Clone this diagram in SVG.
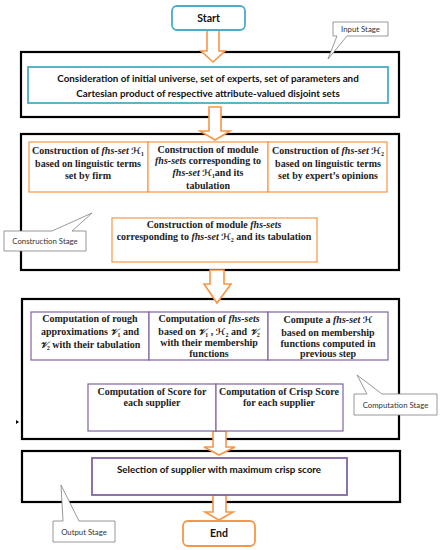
<svg xmlns="http://www.w3.org/2000/svg" width="441" height="550" viewBox="0 0 441 550">
<defs>
<style>
.stage{fill:none;stroke:#000;stroke-width:2.2}
.blue{fill:#fff;stroke:#4bacc6;stroke-width:1.8}
.org{fill:#fff;stroke:#f79646;stroke-width:1.2}
.pur{fill:#fff;stroke:#8064a2;stroke-width:1.2}
.pur2{fill:#fff;stroke:#8064a2;stroke-width:1.8}
.term1{fill:#fff;stroke:#4bacc6;stroke-width:1.8}
.term2{fill:#fff;stroke:#f79646;stroke-width:1.8}
.arrow{fill:#fff;stroke:#f79646;stroke-width:1.6;stroke-linejoin:miter}
.call{fill:#fff;stroke:#7f7f7f;stroke-width:0.8}
.sans{font-family:"Lato","Open Sans","Liberation Sans",sans-serif;font-weight:bold;fill:#111;text-anchor:middle}
.ser{font-family:"Liberation Serif","DejaVu Serif",serif;font-weight:bold;font-size:10px;fill:#222;text-anchor:middle}
.it{font-style:italic}
.math{font-family:"DejaVu Serif","DejaVu Sans","Noto Sans",serif;font-style:italic;font-size:9px}
.ctext{font-family:"Lato","Open Sans","Liberation Sans",sans-serif;font-size:7.8px;fill:#333;text-anchor:middle}
</style>
</defs>

<g id="stage-boxes">
<rect class="stage" x="21" y="52" width="378" height="65"/>
<rect class="stage" x="21" y="134" width="378" height="136"/>
<rect class="stage" x="22" y="299" width="377" height="140"/>
<rect class="stage" x="22" y="451" width="378" height="51"/>
</g>

<g id="connectors">
<path class="arrow" d="M207,30 H219 V51 H225 L213,62 L201,51 H207 Z"/>
<path class="arrow" d="M209,107 H221 V131 H230 L215,140 L200,131 H209 Z"/>
<path class="arrow" d="M210,270 H224 V284 H231 L217,303 L204,284 H210 Z"/>
<path class="arrow" d="M213,431 H226 V447 H235 L219,455 L204,447 H213 Z"/>
<path class="arrow" d="M213,495 H226 V512 H233 L219,520 L205,512 H213 Z"/>
</g>

<g id="start">
<rect class="term1" x="172" y="6" width="73" height="24" rx="5"/>
<text class="sans" x="208.5" y="21.5" font-size="10.5">Start</text>
</g>

<g id="input-box">
<rect class="blue" x="28" y="67" width="360" height="36"/>
<text class="sans" x="208" y="82" font-size="9.8">Consideration of initial universe, set of experts, set of parameters and</text>
<text class="sans" x="208" y="97" font-size="9.8">Cartesian product of respective attribute-valued disjoint sets</text>
</g>

<g id="input-callout">
<path class="call" d="M333,22 H388 V36 H347 L328,59 L337,36 H333 Z"/>
<text class="ctext" x="360.5" y="31.5">Input Stage</text>
</g>

<g id="c1">
<rect class="org" x="29" y="142" width="119" height="50"/>
<text class="ser" x="88" y="154">Construction of <tspan class="it">fhs-set</tspan> <tspan class="math">ℋ</tspan>₁</text>
<text class="ser" x="88" y="167">based on linguistic terms</text>
<text class="ser" x="88" y="179">set by firm</text>
</g>
<g id="c2">
<rect class="org" x="148" y="142" width="120" height="50"/>
<text class="ser" x="208" y="152.5">Construction of module</text>
<text class="ser" x="208" y="164"><tspan class="it">fhs-sets</tspan> corresponding to</text>
<text class="ser" x="208" y="175.5"><tspan class="it">fhs-set</tspan> <tspan class="math">ℋ</tspan>₁and its</text>
<text class="ser" x="208" y="188.5">tabulation</text>
</g>
<g id="c3">
<rect class="org" x="268" y="142" width="119" height="50"/>
<text class="ser" x="328" y="154">Construction of <tspan class="it">fhs-set</tspan> <tspan class="math">ℋ</tspan>₂</text>
<text class="ser" x="328" y="167">based on linguistic terms</text>
<text class="ser" x="328" y="179">set by expert’s opinions</text>
</g>
<g id="c4">
<rect class="org" x="112" y="218" width="205" height="44"/>
<text class="ser" x="214" y="227.5">Construction of module  <tspan class="it">fhs-sets</tspan></text>
<text class="ser" x="214" y="239.5">corresponding to  <tspan class="it">fhs-set</tspan> <tspan class="math">ℋ</tspan>₂ and its tabulation</text>
</g>

<g id="construction-callout">
<path class="call" d="M4,231 H52 L92,213 L72,231 H86 V251 H4 Z"/>
<text class="ctext" x="45" y="244">Construction Stage</text>
</g>

<g id="p1">
<rect class="pur" x="31" y="312" width="118" height="48"/>
<text class="ser" x="90" y="321.5">Computation of rough</text>
<text class="ser" x="90" y="334.5">approximations  <tspan class="math">𝒱</tspan>₁ and</text>
<text class="ser" x="90" y="348"><tspan class="math">𝒱</tspan>₂ with their tabulation</text>
</g>
<g id="p2">
<rect class="pur" x="149" y="312" width="119" height="48"/>
<text class="ser" x="209" y="321.5">Computation of  <tspan class="it">fhs-sets</tspan></text>
<text class="ser" x="209" y="334.5">based on  <tspan class="math">𝒱</tspan>₁ ,  <tspan class="math">ℋ</tspan>₂ and  <tspan class="math">𝒱</tspan>₂</text>
<text class="ser" x="209" y="346">with their membership</text>
<text class="ser" x="209" y="357">functions</text>
</g>
<g id="p3">
<rect class="pur" x="268" y="312" width="120" height="48"/>
<text class="ser" x="328" y="322.5">Compute  a  <tspan class="it">fhs-set</tspan> <tspan class="math">ℋ</tspan></text>
<text class="ser" x="328" y="336">based on membership</text>
<text class="ser" x="328" y="346.5">functions computed in</text>
<text class="ser" x="328" y="357">previous step</text>
</g>
<g id="p4">
<rect class="pur" x="88" y="384" width="128" height="47"/>
<text class="ser" x="152" y="394.5">Computation of Score for</text>
<text class="ser" x="152" y="406">each supplier</text>
</g>
<g id="p5">
<rect class="pur" x="216" y="384" width="127" height="47"/>
<text class="ser" x="279" y="394.5">Computation of Crisp Score</text>
<text class="ser" x="279" y="406">for each supplier</text>
</g>

<g id="computation-callout">
<path class="call" d="M354,394 H367 L357,375 L382,394 H437 V415 H354 Z"/>
<text class="ctext" x="395.5" y="407.5">Computation Stage</text>
</g>

<g id="mark">
<path d="M16,420 L19,422 L16,424 Z" fill="#000"/>
</g>

<g id="selection">
<rect class="pur2" x="92" y="458" width="255" height="37"/>
<text class="sans" x="219" y="473" font-size="9.8">Selection of supplier with maximum crisp score</text>
</g>

<g id="output-callout">
<path class="call" d="M53,521 H63 L61,485 L79,521 H115 V542 H53 Z"/>
<text class="ctext" x="84" y="534.5">Output Stage</text>
</g>

<g id="end">
<rect class="term2" x="183" y="521" width="72" height="25" rx="5"/>
<text class="sans" x="219" y="537" font-size="10.5">End</text>
</g>
</svg>
